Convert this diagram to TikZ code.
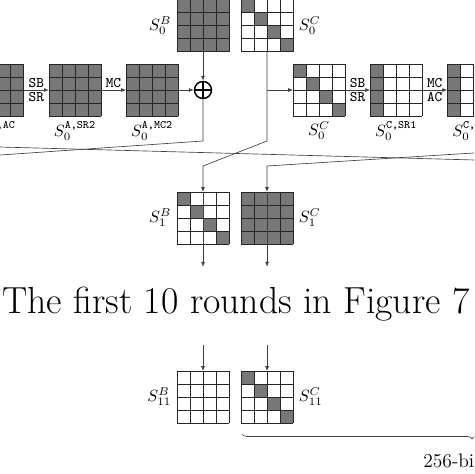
\documentclass[tikz,border=0pt]{standalone}
\usepackage{amsmath}
\usetikzlibrary{arrows.meta, positioning, calc, decorations.pathreplacing}
\definecolor{cellgray}{gray}{0.47}
\newcommand{\cellfill}[2]{\foreach \c/\r in {#2} \fill[cellgray] ($(#1.north west)+(\c*8pt,-\r*8pt)$) rectangle ++(8pt,-8pt);}
\newcommand{\fullfill}[1]{\fill[cellgray] (#1.south west) rectangle (#1.north east);}
\newcommand{\cellgrid}[1]{\draw[gridline, shift={(#1.south west)}] (0pt,0pt) grid[step=8pt] (32.01pt,32.01pt);}

\begin{document}
\begin{tikzpicture}[
        x=0.615pt, y=-0.615pt,
        state/.style={minimum size=32pt, inner sep=0pt, outer sep=0pt},
        gridline/.style={draw=black!85, line width=0.5pt},
        arrow/.style={-{Latex[length=3pt, width=2.4pt]}, draw=black!75, line width=0.4pt},
        line/.style={draw=black!75, line width=0.4pt},
        op/.style={font=\small\ttfamily, inner sep=1pt}
    ]
        \useasboundingbox (0,0) rectangle (474,474);
        \clip (0,0) rectangle (474,474);

        % Round 0: inputs B and C
        \node[state] (sB0) at (203,25.5) {};
        \node[state, right=7.4pt of sB0] (sC0) {};
        \node[left=0pt of sB0] {$S_0^B$};
        \node[right=0pt of sC0] {$S_0^C$};

        % Round 0: A branch
        \node[state] (sAmc) at (152,90) {};
        \node[state, left=15.4pt of sAmc] (sAsr) {};
        \node[state, left=15.4pt of sAsr] (sAac) {};
        \node[below=0pt of sAac] {$S_0^{\texttt{A,AC}}$};
        \node[below=0pt of sAsr] {$S_0^{\texttt{A,SR2}}$};
        \node[below=0pt of sAmc] {$S_0^{\texttt{A,MC2}}$};
        \node[circle, draw, line width=0.9pt, minimum size=10.5pt, inner sep=0pt,
            path picture={\draw[line width=0.9pt] (path picture bounding box.north) -- (path picture bounding box.south)
                (path picture bounding box.west) -- (path picture bounding box.east);}] (xor) at (sB0 |- sAmc) {};

        % Round 0: C branch
        \node[state, anchor=west] (sCc) at (sC0.east |- sAmc) {};
        \node[state, right=15.4pt of sCc] (sCsr) {};
        \node[state, right=15.4pt of sCsr] (sCmc) {};
        \node[below=0pt of sCc] {$S_0^C$};
        \node[below=0pt of sCsr] {$S_0^{\texttt{C,SR1}}$};
        \node[below=0pt of sCmc] {$S_0^{\texttt{C,MC1}}$};

        % Round 1
        \node[state] (sB1) at (203,218) {};
        \node[state, right=7.4pt of sB1] (sC1) {};
        \node[left=0pt of sB1] {$S_1^B$};
        \node[right=0pt of sC1] {$S_1^C$};

        % Round 11
        \node[state] (sB11) at (203,397) {};
        \node[state, right=7.4pt of sB11] (sC11) {};
        \node[left=0pt of sB11] {$S_{11}^B$};
        \node[right=0pt of sC11] {$S_{11}^C$};

        % Cells
        \fullfill{sB0} \fullfill{sAac} \fullfill{sAsr} \fullfill{sAmc} \fullfill{sC1}
        \cellfill{sC0}{0/0,1/1,2/2,3/3}
        \cellfill{sCc}{0/0,1/1,2/2,3/3}
        \cellfill{sB1}{0/0,1/1,2/2,3/3}
        \cellfill{sC11}{0/0,1/1,2/2,3/3}
        \cellfill{sCsr}{0/0,0/1,0/2,0/3}
        \cellfill{sCmc}{0/0,0/1,0/2,0/3}
        \foreach \n in {sB0,sC0,sAac,sAsr,sAmc,sCc,sCsr,sCmc,sB1,sC1,sB11,sC11}
            \cellgrid{\n};

        % Round 0 operations
        \draw[arrow] (sAac) -- node[op, above] {SB} node[op, below] {SR} (sAsr);
        \draw[arrow] (sAsr) -- node[op, above] {MC} (sAmc);
        \draw[arrow] (sAmc) -- (xor);
        \draw[arrow] (sB0) -- (xor);
        \draw[arrow] (sCc) -- node[op, above] {SB} node[op, below] {SR} (sCsr);
        \draw[arrow] (sCsr) -- node[op, above] {MC} node[op, below] {AC} (sCmc);

        % Wiring into round 1
        \coordinate (br) at (sC0 |- sCc);
        \coordinate (a1) at (203,141);
        \coordinate (aout) at (-30,157.1);
        \coordinate (c1) at (267,141);
        \coordinate (c2) at (203,166);
        \coordinate (c3) at (267,166);
        \coordinate (cin) at (504,151.1);
        \coordinate (din) at (-30,146.2);
        \coordinate (dout) at (504,160.8);
        \draw[arrow] (br) -- (sCc);
        \draw[line] (xor) -- (a1) -- (aout);
        \draw[arrow] (sC0) -- (c1) -- (c2) -- (sB1);
        \draw[arrow] (cin) -- (c3) -- (sC1);
        \draw[line] (din) -- (dout);

        % Round 1 outputs
        \coordinate[below=14pt of sB1] (oB1);
        \coordinate[below=14pt of sC1] (oC1);
        \draw[arrow] (sB1.north) -- (oB1);
        \draw[arrow] (sC1.north) -- (oC1);

        \node[font=\fontsize{23.2}{28}\selectfont, inner sep=0pt, anchor=base west] (title) at (2,313) {The first 10 rounds in Figure 7};

        % Round 11 inputs
        \coordinate[above=16pt of sB11] (iB11);
        \coordinate[above=16pt of sC11] (iC11);
        \draw[arrow] (iB11) -- (sB11);
        \draw[arrow] (iC11) -- (sC11);

        % Output brace
        \coordinate (bl) at (242,434);
        \coordinate (br2) at (702,434);
        \draw[line, decorate, decoration={brace, mirror, amplitude=3pt}] (bl) -- (br2);
        \node[font=\large, anchor=base west, inner sep=0pt] (bits) at (423,467) {256-bit};
\end{tikzpicture}
\end{document}
